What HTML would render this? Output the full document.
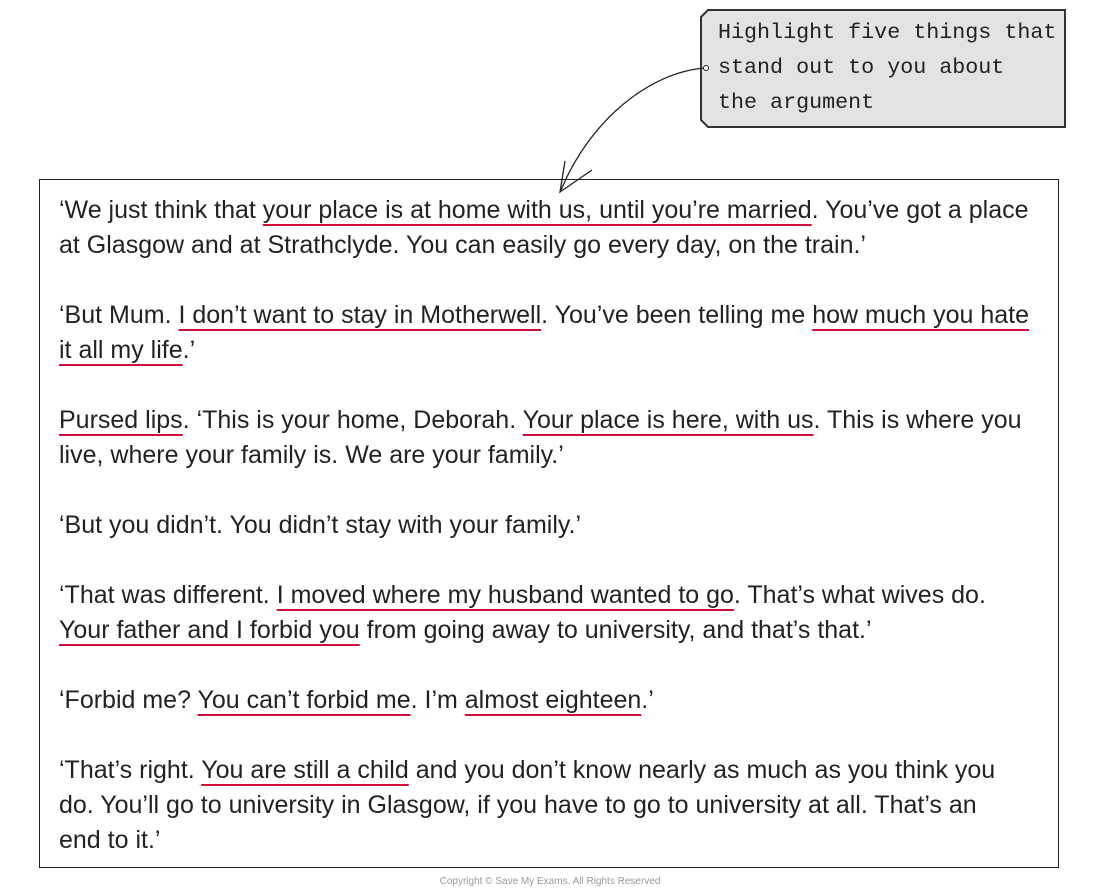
<!DOCTYPE html>
<html><head><meta charset="utf-8"><style>
body{margin:0;width:1100px;height:896px;background:#fff;position:relative;overflow:hidden;font-family:"Liberation Sans",Arial,sans-serif;}
.box{position:absolute;left:39px;top:179px;width:1018px;height:687px;border:1.5px solid #222;}
.l{position:absolute;left:59px;font-size:25px;color:#222;white-space:nowrap;line-height:26px;}
u{text-decoration:underline;text-decoration-color:#d0103a;text-decoration-thickness:2px;text-underline-offset:6px;}
.c{position:absolute;left:718px;font-family:"Liberation Mono",monospace;font-size:21.7px;color:#222;white-space:nowrap;}
.cp{position:absolute;top:876px;left:0;width:1100px;text-align:center;font-size:10px;color:#999;}
</style></head><body>
<svg width="1100" height="896" style="position:absolute;left:0;top:0">
<path d="M708,10 L1065,10 L1065,127 L708,127 L701,120 L701,17 Z" fill="#e3e3e3" stroke="#333" stroke-width="2"/>
<path d="M705,68 C650,72 590,120 561,190" fill="none" stroke="#222" stroke-width="1.3"/>
<circle cx="706" cy="68" r="2.5" fill="#fff" stroke="#222"/>
<path d="M565,161 L560,192 L592,170" fill="none" stroke="#222" stroke-width="1.3"/>
</svg>
<div class="c" style="top:20px">Highlight five things that</div>
<div class="c" style="top:55px">stand out to you about</div>
<div class="c" style="top:90px">the argument</div>
<div class="box"></div>
<div class="l" style="top:197px">‘We just think that <u>your place is at home with us, until you’re married</u>. You’ve got a place</div>
<div class="l" style="top:232px">at Glasgow and at Strathclyde. You can easily go every day, on the train.’</div>
<div class="l" style="top:302px">‘But Mum. <u>I don’t want to stay in Motherwell</u>. You’ve been telling me <u>how much you hate</u></div>
<div class="l" style="top:337px"><u>it all my life</u>.’</div>
<div class="l" style="top:407px"><u>Pursed lips</u>. ‘This is your home, Deborah. <u>Your place is here, with us</u>. This is where you</div>
<div class="l" style="top:442px">live, where your family is. We are your family.’</div>
<div class="l" style="top:512px">‘But you didn’t. You didn’t stay with your family.’</div>
<div class="l" style="top:582px">‘That was different. <u>I moved where my husband wanted to go</u>. That’s what wives do.</div>
<div class="l" style="top:617px"><u>Your father and I forbid you</u> from going away to university, and that’s that.’</div>
<div class="l" style="top:687px">‘Forbid me? <u>You can’t forbid me</u>. I’m <u>almost eighteen</u>.’</div>
<div class="l" style="top:757px">‘That’s right. <u>You are still a child</u> and you don’t know nearly as much as you think you</div>
<div class="l" style="top:792px">do. You’ll go to university in Glasgow, if you have to go to university at all. That’s an</div>
<div class="l" style="top:827px">end to it.’</div>
<div class="cp">Copyright © Save My Exams. All Rights Reserved</div>
</body></html>
